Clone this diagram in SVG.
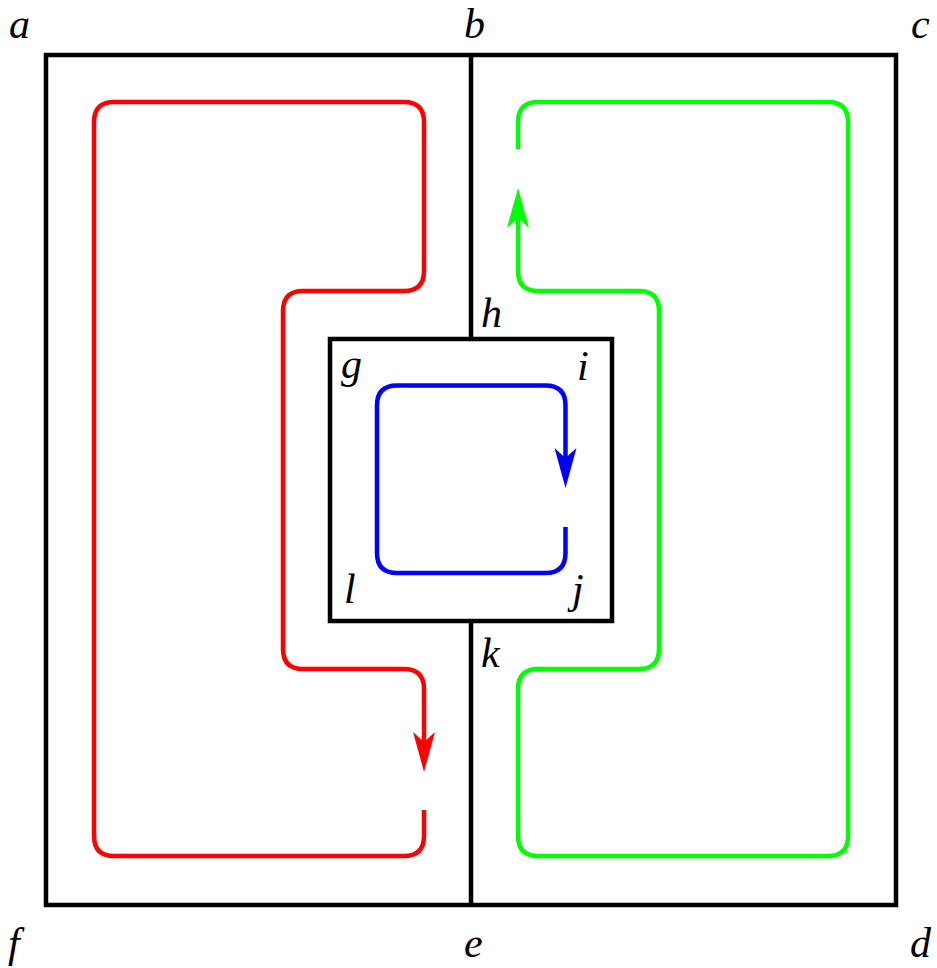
<svg xmlns="http://www.w3.org/2000/svg" width="937" height="968" viewBox="0 0 937 968">
<style>
.frame{fill:none;stroke:#000;stroke-width:4.5}
.loop{fill:none;stroke-width:4.5;stroke-linecap:butt;stroke-linejoin:round}
.lbl{font-family:"Liberation Serif","Times New Roman",serif;font-style:italic;font-size:42px;fill:#000}
</style>
<defs>
<marker id="arR" markerUnits="userSpaceOnUse" viewBox="-12 -13 44 26" refX="0" refY="0" markerWidth="44" markerHeight="26" orient="auto"><path d="M30 0 L-10 -11 L0 0 L-10 11 Z" fill="#ff0000"/></marker>
<marker id="arG" markerUnits="userSpaceOnUse" viewBox="-12 -13 44 26" refX="0" refY="0" markerWidth="44" markerHeight="26" orient="auto"><path d="M30 0 L-10 -11 L0 0 L-10 11 Z" fill="#00ff00"/></marker>
<marker id="arB" markerUnits="userSpaceOnUse" viewBox="-12 -13 44 26" refX="0" refY="0" markerWidth="44" markerHeight="26" orient="auto"><path d="M30 0 L-10 -11 L0 0 L-10 11 Z" fill="#0000ff"/></marker>
</defs>
<g id="frame">
<rect class="frame" x="46" y="55" width="850" height="850"/>
<line class="frame" x1="471" y1="55" x2="471" y2="339"/>
<line class="frame" x1="471" y1="621" x2="471" y2="905"/>
<rect class="frame" x="330" y="339" width="282" height="282"/>
</g>
<g id="connectors">
<path id="red" class="loop" stroke="#ff0000" marker-end="url(#arR)" d="M424 810 L424 836 Q424 856 404 856 L114 856 Q94 856 94 836 L94 122 Q94 102 114 102 L404 102 Q424 102 424 122 L424 271 Q424 291 404 291 L303 291 Q283 291 283 311 L283 649 Q283 669 303 669 L404 669 Q424 669 424 689 L424 742"/>
<path id="green" class="loop" stroke="#00ff00" marker-end="url(#arG)" d="M518 149 L518 122 Q518 102 538 102 L828 102 Q848 102 848 122 L848 836 Q848 856 828 856 L538 856 Q518 856 518 836 L518 689 Q518 669 538 669 L639 669 Q659 669 659 649 L659 311 Q659 291 639 291 L538 291 Q518 291 518 271 L518 218"/>
<path id="blue" class="loop" stroke="#0000ff" marker-end="url(#arB)" d="M565.5 527 L565.5 553 Q565.5 573 545.5 573 L397 573 Q377 573 377 553 L377 405.5 Q377 385.5 397 385.5 L545.5 385.5 Q565.5 385.5 565.5 405.5 L565.5 458"/>
</g>
<g id="labels">
<text class="lbl" x="9" y="38">a</text>
<text class="lbl" x="464" y="38">b</text>
<text class="lbl" x="911" y="38">c</text>
<text class="lbl" x="910" y="957">d</text>
<text class="lbl" x="464" y="957">e</text>
<text class="lbl" x="8" y="957">f</text>
<text class="lbl" x="341" y="378">g</text>
<text class="lbl" x="481" y="327">h</text>
<text class="lbl" x="577" y="380">i</text>
<text class="lbl" x="572" y="603">j</text>
<text class="lbl" x="481" y="667">k</text>
<text class="lbl" x="344" y="603">l</text>
</g>
</svg>
